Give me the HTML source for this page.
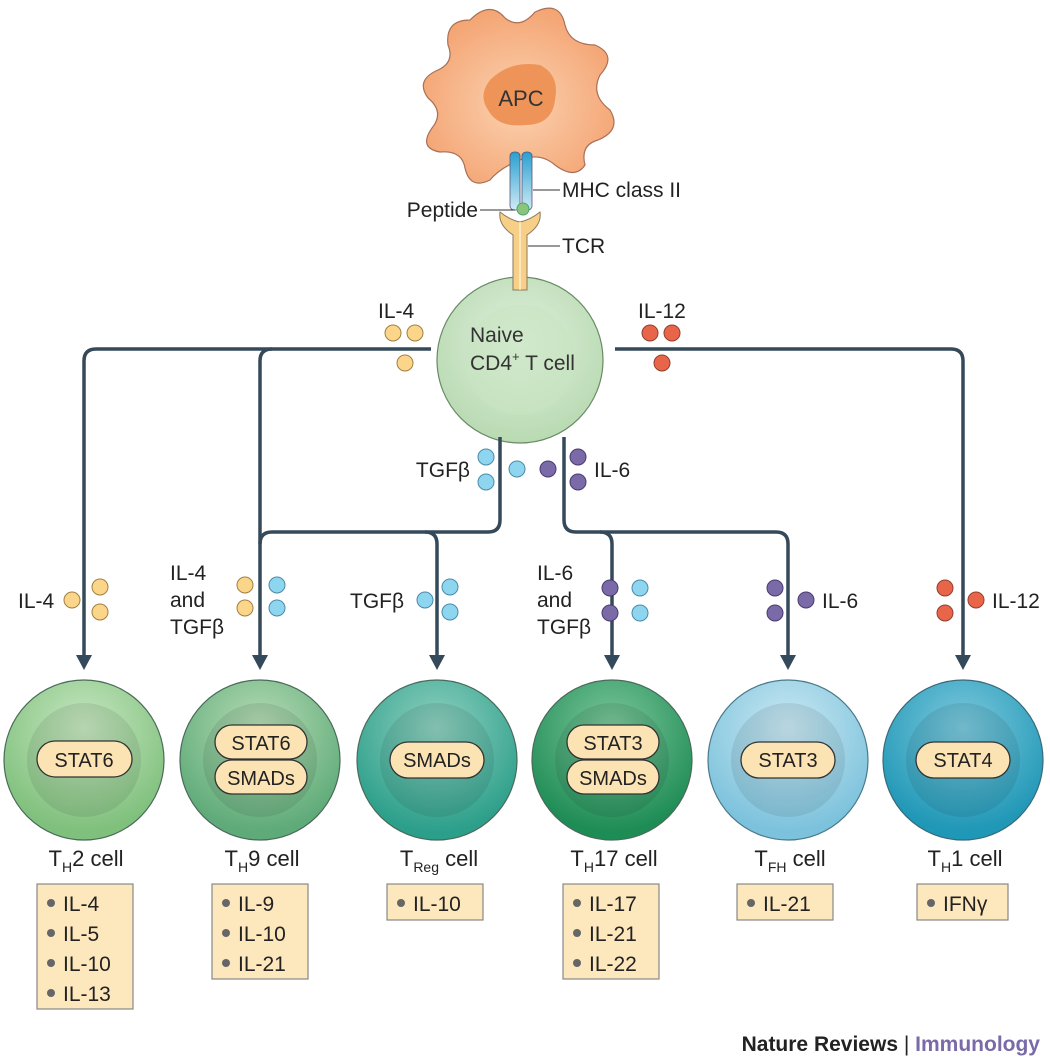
<!DOCTYPE html>
<html><head><meta charset="utf-8"><style>
html,body{margin:0;padding:0;background:#fff;}
svg{display:block;font-family:"Liberation Sans",sans-serif;}
</style></head><body>
<svg width="1050" height="1063" viewBox="0 0 1050 1063" xmlns="http://www.w3.org/2000/svg">
<defs>
<radialGradient id="apc" cx="50%" cy="55%" r="55%"><stop offset="0" stop-color="#fbd2b0"/><stop offset="1" stop-color="#f4a574"/></radialGradient>
<radialGradient id="naive" cx="50%" cy="40%" r="60%"><stop offset="0" stop-color="#e0efdc"/><stop offset="1" stop-color="#b8dab2"/></radialGradient>
<linearGradient id="mhc" x1="0" y1="0" x2="0" y2="1"><stop offset="0" stop-color="#2a9fd0"/><stop offset="1" stop-color="#cfeaf6"/></linearGradient>
<radialGradient id="g1" cx="50%" cy="30%" r="65%"><stop offset="0" stop-color="#c6e6c0"/><stop offset="1" stop-color="#7fc07c"/></radialGradient>
<radialGradient id="g2" cx="50%" cy="30%" r="65%"><stop offset="0" stop-color="#b6dcb4"/><stop offset="1" stop-color="#5eaa78"/></radialGradient>
<radialGradient id="g3" cx="50%" cy="30%" r="65%"><stop offset="0" stop-color="#8fd0bf"/><stop offset="1" stop-color="#2c9f8a"/></radialGradient>
<radialGradient id="g4" cx="50%" cy="30%" r="65%"><stop offset="0" stop-color="#7cc69a"/><stop offset="1" stop-color="#1e8c55"/></radialGradient>
<radialGradient id="g5" cx="50%" cy="30%" r="65%"><stop offset="0" stop-color="#c9e8f2"/><stop offset="1" stop-color="#7cc2dc"/></radialGradient>
<radialGradient id="g6" cx="50%" cy="30%" r="65%"><stop offset="0" stop-color="#7cc8dc"/><stop offset="1" stop-color="#1f97b6"/></radialGradient>
</defs>

<!-- APC -->
<path d="M470,20 Q490,0 505,18 Q520,30 535,12 Q560,0 565,25 Q570,45 595,45 Q618,55 600,75 Q590,95 610,110 Q622,130 598,140 Q580,145 585,165 Q575,180 555,165 Q540,152 520,160 Q500,168 490,180 Q470,190 465,168 Q462,150 440,152 Q418,148 432,128 Q445,112 428,98 Q415,80 438,70 Q455,62 448,45 Q445,20 470,20 Z" fill="url(#apc)" stroke="#a87058" stroke-width="1.2"/>
<path d="M490,80 Q510,60 540,65 Q560,75 555,100 Q552,125 525,125 Q498,128 488,110 Q478,95 490,80 Z" fill="#ee9458"/>
<text x="521" y="106" font-size="22" text-anchor="middle" fill="#333">APC</text>

<!-- Naive cell -->
<circle cx="520" cy="360" r="83" fill="url(#naive)" stroke="#6a8a66" stroke-width="1.2"/>
<circle cx="520" cy="360" r="55" fill="#c8e4c2" opacity="0.6"/>

<!-- TCR -->
<path d="M500,212 Q498,225 513,235 L513,290 L527,290 L527,235 Q542,225 540,212 Q530,220 520,222 Q510,220 500,212Z" fill="#f7cf86" stroke="#8a7a60" stroke-width="1"/>
<line x1="520" y1="222" x2="520" y2="290" stroke="#fff" stroke-width="1"/>
<!-- MHC -->
<rect x="510" y="152" width="10" height="58" rx="4" fill="url(#mhc)" stroke="#557" stroke-width="0.8"/>
<rect x="522" y="152" width="10" height="58" rx="4" fill="url(#mhc)" stroke="#557" stroke-width="0.8"/>
<circle cx="523" cy="209" r="6" fill="#8cc47e" stroke="#4a6" stroke-width="1"/>
<line x1="533" y1="190" x2="560" y2="190" stroke="#333" stroke-width="1"/>
<text x="562" y="197" font-size="21" fill="#222">MHC class II</text>
<line x1="480" y1="210" x2="515" y2="210" stroke="#333" stroke-width="1"/>
<text x="478" y="217" font-size="21" fill="#222" text-anchor="end">Peptide</text>
<line x1="528" y1="246" x2="560" y2="246" stroke="#333" stroke-width="1"/>
<text x="562" y="253" font-size="21" fill="#222">TCR</text>

<text x="470" y="342" font-size="21" fill="#333">Naive</text>
<text x="470" y="370" font-size="21" fill="#333">CD4<tspan font-size="13" dy="-9">+</tspan><tspan dy="9"> T cell</tspan></text>

<!-- Lines -->
<g fill="none" stroke="#34495a" stroke-width="3.5">
<path d="M431,349 L96,349 Q84,349 84,361 L84,660"/>
<path d="M272,349 Q260,349 260,361 L260,660"/>
<path d="M615,349 L951,349 Q963,349 963,361 L963,660"/>
<path d="M500,437 L500,520 Q500,532 488,532 L272,532 Q260,532 260,544"/>
<path d="M425,532 Q437,532 437,544 L437,660"/>
<path d="M564,437 L564,520 Q564,532 576,532 L776,532 Q788,532 788,544 L788,660"/>
<path d="M600,532 Q612,532 612,544 L612,660"/>
</g>
<g fill="#34495a">
<path d="M76,655 L92,655 L84,670Z"/><path d="M252,655 L268,655 L260,670Z"/>
<path d="M429,655 L445,655 L437,670Z"/><path d="M604,655 L620,655 L612,670Z"/>
<path d="M780,655 L796,655 L788,670Z"/><path d="M955,655 L971,655 L963,670Z"/>
</g>

<!-- dots -->
<g stroke-width="1" >
<g fill="#fbd58a" stroke="#a08040">
<circle cx="393" cy="333" r="8"/><circle cx="415" cy="333" r="8"/><circle cx="405" cy="363" r="8"/>
<circle cx="72" cy="600" r="8"/><circle cx="100" cy="587" r="8"/><circle cx="100" cy="612" r="8"/>
<circle cx="245" cy="585" r="8"/><circle cx="245" cy="608" r="8"/>
</g>
<g fill="#e8654a" stroke="#904030">
<circle cx="650" cy="333" r="8"/><circle cx="672" cy="333" r="8"/><circle cx="662" cy="363" r="8"/>
<circle cx="945" cy="588" r="8"/><circle cx="945" cy="613" r="8"/><circle cx="976" cy="600" r="8"/>
</g>
<g fill="#8ed6f0" stroke="#4a8aa8">
<circle cx="486" cy="457" r="8"/><circle cx="486" cy="482" r="8"/><circle cx="517" cy="469" r="8"/>
<circle cx="277" cy="585" r="8"/><circle cx="277" cy="608" r="8"/>
<circle cx="425" cy="600" r="8"/><circle cx="450" cy="587" r="8"/><circle cx="450" cy="612" r="8"/>
<circle cx="640" cy="588" r="8"/><circle cx="640" cy="613" r="8"/>
</g>
<g fill="#7a6aa8" stroke="#4a3a70">
<circle cx="548" cy="469" r="8"/><circle cx="578" cy="457" r="8"/><circle cx="578" cy="482" r="8"/>
<circle cx="610" cy="588" r="8"/><circle cx="610" cy="613" r="8"/>
<circle cx="775" cy="588" r="8"/><circle cx="775" cy="613" r="8"/><circle cx="806" cy="600" r="8"/>
</g>
</g>

<g font-size="21" fill="#222">
<text x="378" y="318">IL-4</text>
<text x="638" y="318">IL-12</text>
<text x="470" y="477" text-anchor="end">TGFβ</text>
<text x="594" y="477">IL-6</text>
<text x="18" y="608">IL-4</text>
<text x="170" y="580">IL-4</text><text x="170" y="607">and</text><text x="170" y="634">TGFβ</text>
<text x="350" y="608">TGFβ</text>
<text x="537" y="580">IL-6</text><text x="537" y="607">and</text><text x="537" y="634">TGFβ</text>
<text x="822" y="608">IL-6</text>
<text x="992" y="608">IL-12</text>
</g>

<!-- bottom cells -->
<g stroke="#4a6a5a" stroke-width="1.2">
<circle cx="84" cy="760" r="80" fill="url(#g1)"/>
<circle cx="260" cy="760" r="80" fill="url(#g2)"/>
<circle cx="437" cy="760" r="80" fill="url(#g3)"/>
<circle cx="612" cy="760" r="80" fill="url(#g4)"/>
<circle cx="788" cy="760" r="80" fill="url(#g5)" stroke="#4a7a8a"/>
<circle cx="963" cy="760" r="80" fill="url(#g6)" stroke="#3a6a7a"/>
</g>
<g fill="#000" opacity="0.08">
<circle cx="84" cy="760" r="57"/><circle cx="260" cy="760" r="57"/><circle cx="437" cy="760" r="57"/>
<circle cx="612" cy="760" r="57"/><circle cx="788" cy="760" r="57"/><circle cx="963" cy="760" r="57"/>
</g>
<g fill="#fce3b4" stroke="#333" stroke-width="1.3">
<rect x="37" y="741" width="95" height="36" rx="18"/>
<rect x="215" y="725" width="92" height="34" rx="17"/><rect x="215" y="760" width="92" height="34" rx="17"/>
<rect x="390" y="742" width="94" height="36" rx="18"/>
<rect x="567" y="725" width="92" height="34" rx="17"/><rect x="567" y="760" width="92" height="34" rx="17"/>
<rect x="741" y="742" width="94" height="36" rx="18"/>
<rect x="916" y="742" width="94" height="36" rx="18"/>
</g>
<g font-size="20" fill="#222" text-anchor="middle">
<text x="84" y="767">STAT6</text>
<text x="261" y="750">STAT6</text><text x="261" y="785">SMADs</text>
<text x="437" y="767">SMADs</text>
<text x="613" y="750">STAT3</text><text x="613" y="785">SMADs</text>
<text x="788" y="767">STAT3</text>
<text x="963" y="767">STAT4</text>
</g>
<g font-size="22" fill="#222" text-anchor="middle">
<text x="86" y="866">T<tspan font-size="14" dy="6">H</tspan><tspan dy="-6">2 cell</tspan></text>
<text x="262" y="866">T<tspan font-size="14" dy="6">H</tspan><tspan dy="-6">9 cell</tspan></text>
<text x="439" y="866">T<tspan font-size="14" dy="6">Reg</tspan><tspan dy="-6"> cell</tspan></text>
<text x="614" y="866">T<tspan font-size="14" dy="6">H</tspan><tspan dy="-6">17 cell</tspan></text>
<text x="790" y="866">T<tspan font-size="14" dy="6">FH</tspan><tspan dy="-6"> cell</tspan></text>
<text x="965" y="866">T<tspan font-size="14" dy="6">H</tspan><tspan dy="-6">1 cell</tspan></text>
</g>
<g fill="#fde7bd" stroke="#888" stroke-width="1.2">
<rect x="37" y="884" width="96" height="125"/>
<rect x="212" y="884" width="96" height="95"/>
<rect x="387" y="884" width="96" height="36"/>
<rect x="563" y="884" width="96" height="95"/>
<rect x="737" y="884" width="96" height="36"/>
<rect x="917" y="884" width="91" height="36"/>
</g>
<g fill="#666">
<circle cx="51" cy="903" r="4"/><circle cx="51" cy="933" r="4"/><circle cx="51" cy="963" r="4"/><circle cx="51" cy="993" r="4"/>
<circle cx="226" cy="903" r="4"/><circle cx="226" cy="933" r="4"/><circle cx="226" cy="963" r="4"/>
<circle cx="401" cy="903" r="4"/>
<circle cx="577" cy="903" r="4"/><circle cx="577" cy="933" r="4"/><circle cx="577" cy="963" r="4"/>
<circle cx="751" cy="903" r="4"/>
<circle cx="931" cy="903" r="4"/>
</g>
<g font-size="21" fill="#222">
<text x="63" y="911">IL-4</text><text x="63" y="941">IL-5</text><text x="63" y="971">IL-10</text><text x="63" y="1001">IL-13</text>
<text x="238" y="911">IL-9</text><text x="238" y="941">IL-10</text><text x="238" y="971">IL-21</text>
<text x="413" y="911">IL-10</text>
<text x="589" y="911">IL-17</text><text x="589" y="941">IL-21</text><text x="589" y="971">IL-22</text>
<text x="763" y="911">IL-21</text>
<text x="943" y="911">IFNγ</text>
</g>

<text x="1040" y="1051" font-size="21" font-weight="bold" text-anchor="end" fill="#222">Nature Reviews <tspan font-weight="normal">|</tspan> <tspan fill="#7a6aa8">Immunology</tspan></text>
</svg>
</body></html>
